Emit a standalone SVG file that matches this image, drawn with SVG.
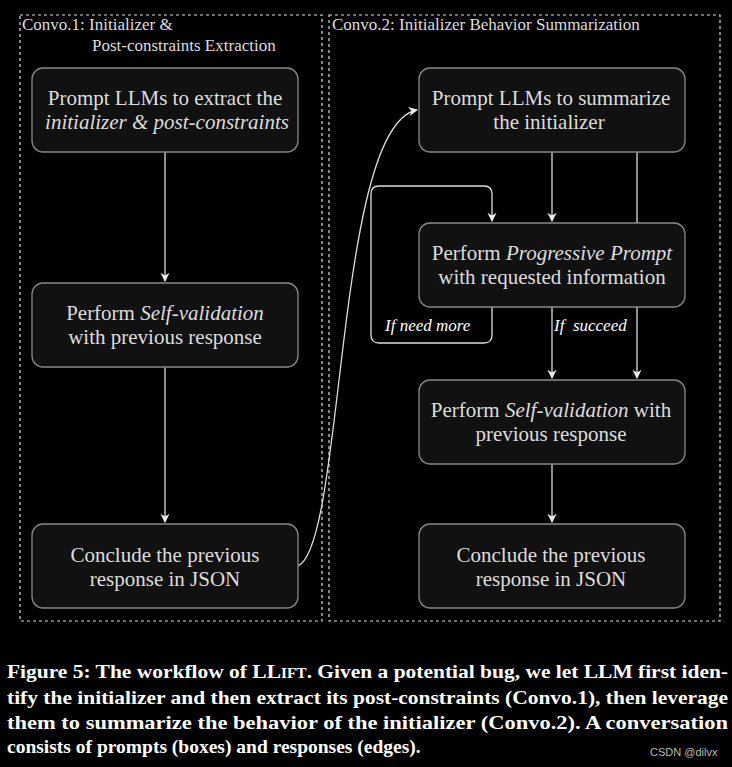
<svg xmlns="http://www.w3.org/2000/svg" width="732" height="767" viewBox="0 0 732 767">
<style>
.frame{fill:none;stroke:#ddd;stroke-width:1.2;stroke-dasharray:3,3}
.box{fill:#111;stroke:#888;stroke-width:1.3}
.t{font-size:21px;fill:#ddd;text-anchor:middle}
.h{font-size:17px;fill:#ddd}
.c{fill:none;stroke:#ddd;stroke-width:1.3}
.lab{font-size:17px;fill:#fff;font-style:italic}
.cap{font-size:19.5px;fill:#fff;font-weight:bold}
</style>
<defs><marker id="a" viewBox="0 0 10 10" refX="9" refY="5" markerWidth="7" markerHeight="7" orient="auto"><path d="M0,0 L10,5 L0,10 L3,5 z" fill="#eee"/></marker></defs>
<rect width="732" height="767" fill="#000"/>
<g font-family="Liberation Serif, serif">
<rect class="frame" x="20" y="15" width="302" height="606"/>
<rect class="frame" x="329" y="15" width="391" height="606"/>
<text class="h" x="22" y="30">Convo.1: Initializer &amp;</text>
<text class="h" x="92" y="51">Post-constraints Extraction</text>
<text class="h" x="332" y="30">Convo.2: Initializer Behavior Summarization</text>
<g id="connectors">
<path class="c" d="M165,152 V281" marker-end="url(#a)"/>
<path class="c" d="M165,367 V522" marker-end="url(#a)"/>
<path class="c" d="M552,152 V221" marker-end="url(#a)"/>
<path class="c" d="M637,152 V378" marker-end="url(#a)"/>
<path class="c" d="M552,307 V378" marker-end="url(#a)"/>
<path class="c" d="M552,464 V522" marker-end="url(#a)"/>
<path class="c" d="M492,307 V335 Q492,343 484,343 H379 Q371,343 371,335 V194 Q371,186 379,186 H484 Q492,186 492,194 V221" marker-end="url(#a)"/>
<path class="c" d="M298,566 C345,545 335,125 417,110" marker-end="url(#a)"/>
<text class="lab" x="385" y="331">If need more</text>
<text class="lab" x="554" y="331" xml:space="preserve">If  succeed</text>
</g>
<g id="n1"><rect class="box" x="32" y="68" width="266" height="84" rx="11"/><text class="t" x="165" y="105">Prompt LLMs to extract the</text><text class="t" x="167" y="129" font-style="italic">initializer &amp; post-constraints</text></g>
<g id="n2"><rect class="box" x="32" y="283" width="266" height="84" rx="11"/><text class="t" x="165" y="320">Perform <tspan font-style="italic">Self-validation</tspan></text><text class="t" x="165" y="344">with previous response</text></g>
<g id="n3"><rect class="box" x="32" y="524" width="266" height="84" rx="11"/><text class="t" x="165" y="562">Conclude the previous</text><text class="t" x="165" y="586">response in JSON</text></g>
<g id="n4"><rect class="box" x="419" y="68" width="266" height="84" rx="11"/><text class="t" x="551" y="105">Prompt LLMs to summarize</text><text class="t" x="549" y="129">the initializer</text></g>
<g id="n5"><rect class="box" x="419" y="223" width="266" height="84" rx="11"/><text class="t" x="552" y="260">Perform <tspan font-style="italic">Progressive Prompt</tspan></text><text class="t" x="552" y="284">with requested information</text></g>
<g id="n6"><rect class="box" x="419" y="380" width="266" height="84" rx="11"/><text class="t" x="551" y="417">Perform <tspan font-style="italic">Self-validation</tspan> with</text><text class="t" x="551" y="441">previous response</text></g>
<g id="n7"><rect class="box" x="419" y="524" width="266" height="84" rx="11"/><text class="t" x="551" y="562">Conclude the previous</text><text class="t" x="551" y="586">response in JSON</text></g>
<text class="cap" x="7" y="678" textLength="721" lengthAdjust="spacingAndGlyphs">Figure 5: The workflow of LL<tspan font-size="14px">IFT</tspan>. Given a potential bug, we let LLM first iden-</text>
<text class="cap" x="7" y="704" textLength="721" lengthAdjust="spacingAndGlyphs">tify the initializer and then extract its post-constraints (Convo.1), then leverage</text>
<text class="cap" x="7" y="729" textLength="721" lengthAdjust="spacingAndGlyphs">them to summarize the behavior of the initializer (Convo.2). A conversation</text>
<text class="cap" x="7" y="753">consists of prompts (boxes) and responses (edges).</text>
</g>
<text x="650" y="756" font-family="Liberation Sans, sans-serif" font-size="11" fill="#bbb">CSDN @dilvx</text>
</svg>
